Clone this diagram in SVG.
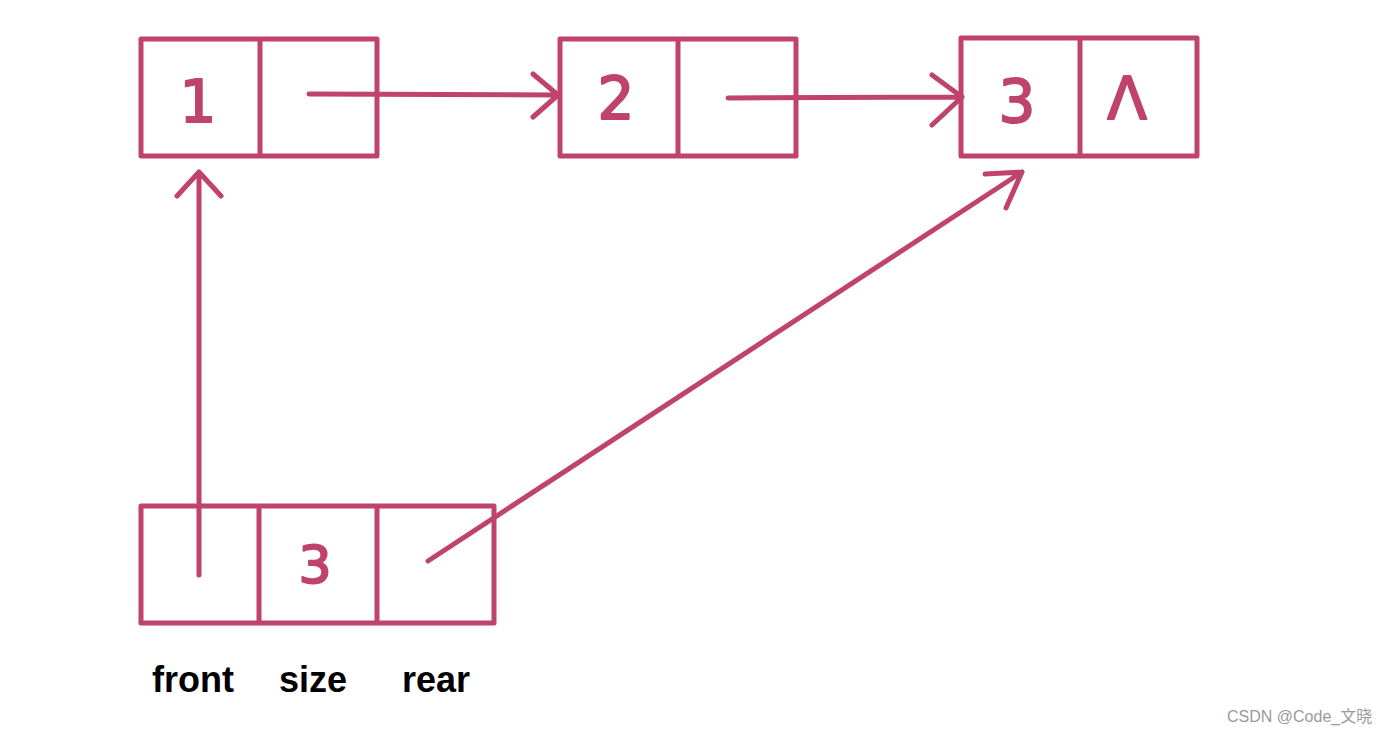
<svg xmlns="http://www.w3.org/2000/svg" width="1385" height="734" viewBox="0 0 1385 734">
<style>
.box{fill:none;stroke:#BF436C;stroke-width:5;stroke-linejoin:round}
.div{stroke:#BF436C;stroke-width:5}
.hand{fill:#BF436C;stroke:#BF436C;stroke-width:2;stroke-linejoin:round;font-family:"DejaVu Sans",sans-serif;font-size:58px;text-anchor:middle}
.lbl{fill:#000;font-family:"Liberation Sans",Arial,sans-serif;font-weight:bold;font-size:36px;text-anchor:middle}
.edge{fill:none;stroke:#BF436C;stroke-width:5;stroke-linecap:round;stroke-linejoin:round}
.wm{fill:#9a9a9a;font-family:"Liberation Sans","Noto Sans CJK SC",sans-serif;font-size:16px}
</style>
<rect width="1385" height="734" fill="#fff"/>
<g id="node1">
<rect class="box" x="141" y="39" width="236" height="117"/>
<line class="div" x1="260" y1="39" x2="260" y2="156"/>
<text class="hand" x="198" y="122">1</text>
</g>
<g id="node2">
<rect class="box" x="560" y="39" width="236" height="117"/>
<line class="div" x1="678" y1="39" x2="678" y2="156"/>
<text class="hand" x="616" y="119">2</text>
</g>
<g id="node3">
<rect class="box" x="961" y="38" width="236" height="118"/>
<line class="div" x1="1080" y1="38" x2="1080" y2="156"/>
<text class="hand" x="1017" y="122">3</text>
<text class="hand" x="1127" y="119">Λ</text>
</g>
<g id="queue">
<rect class="box" x="141" y="506" width="353" height="117"/>
<line class="div" x1="259" y1="506" x2="259" y2="623"/>
<line class="div" x1="377" y1="506" x2="377" y2="623"/>
<text class="hand" x="315" y="583" style="font-size:52px">3</text>
<text class="lbl" x="193" y="692">front</text>
<text class="lbl" x="313" y="692">size</text>
<text class="lbl" x="436" y="692">rear</text>
</g>
<g id="connectors">
<path class="edge" d="M309 94 L558 95 M533 74 L558 95 L533 117"/>
<path class="edge" d="M728 98 L962 97 M932 75 L962 97 L932 125"/>
<path class="edge" d="M199 575 L199 172 M177 196 L199 172 L221 196"/>
<path class="edge" d="M428 561 L1022 172 M985 174 L1022 172 L1006 208"/>
</g>
<text class="wm" x="1227" y="722">CSDN @Code_文晓</text>
</svg>
